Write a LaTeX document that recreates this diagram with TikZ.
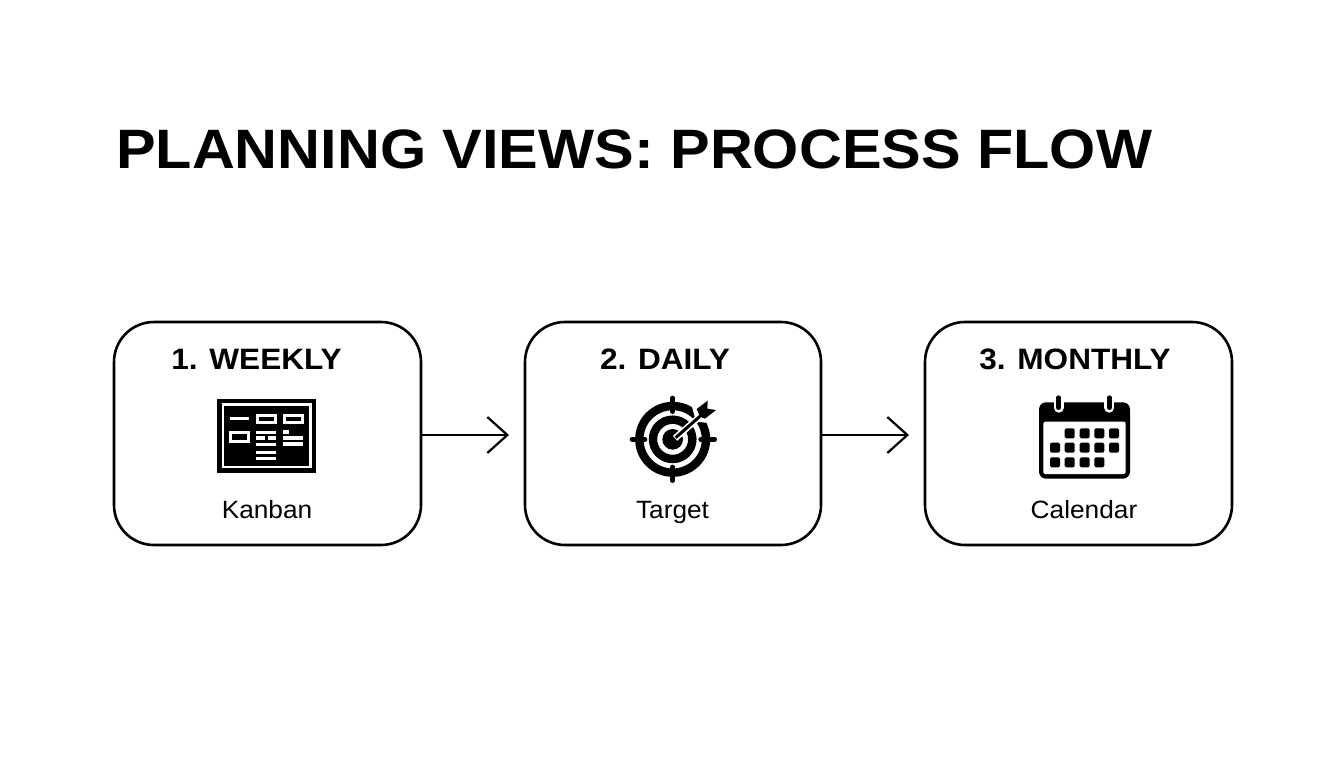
\documentclass[tikz,border=0pt]{standalone}
\usepackage{fontspec}
\setmainfont{Liberation Sans}
\usetikzlibrary{arrows.meta}
\tikzset{
  card/.style={draw=black,line width=2.6pt,rounded corners=40pt,fill=white,inner sep=0pt},
  titletext/.style={anchor=base west,inner sep=0pt,font=\fontsize{55.5}{60}\selectfont\bfseries\addfontfeature{FakeStretch=1.07}},
  headtext/.style={anchor=base,inner sep=0pt,font=\fontsize{29.5}{32}\selectfont\bfseries\addfontfeature{FakeStretch=1.07}},
  subtext/.style={anchor=base,inner sep=0pt,font=\fontsize{25}{28}\selectfont\addfontfeature{FakeStretch=1.05}},
  flow/.style={draw=black,line width=2pt,-{Straight Barb[length=20pt,width=36pt,line width=2.2pt]}},
  zoomed/.style={x=0.33333pt,y=-0.33333pt},
}
\begin{document}
\begin{tikzpicture}[x=1pt,y=-1pt]
\useasboundingbox (0,0) rectangle (1344,768);
\fill[white] (0,0) rectangle (1344,768);
\node[titletext] (title) at (116,168) {PLANNING VIEWS: PROCESS FLOW};
\node[card,minimum width=307pt,minimum height=223pt] (b1) at (267.5,433.5) {};
\node[card,minimum width=296pt,minimum height=223pt] (b2) at (673,433.5) {};
\node[card,minimum width=307pt,minimum height=223pt] (b3) at (1078.5,433.5) {};
\node[headtext] (h1) at (256.5,369) {1. WEEKLY};
\node[headtext] (h2) at (665,369) {2. DAILY};
\node[headtext] (h3) at (1075,369) {3. MONTHLY};
\node[subtext] (s1) at (267,518) {Kanban};
\node[subtext] (s2) at (672.5,518) {Target};
\node[subtext] (s3) at (1084,518) {Calendar};
\coordinate (e1) at (509,435);
\coordinate (e2) at (909,435);
\draw[flow] (b1.east |- e1) -- (e1);
\draw[flow] (b2.east |- e2) -- (e2);
% Kanban icon
\begin{scope}[shift={(200,385)},zoomed]
  \fill[black] (52,42) rectangle (349,264);
  \draw[white,line width=2.8pt] (69,59) rectangle (331,246);
  \fill[white] (90,95) rectangle (147,106);
  \draw[white,line width=3pt] (172,91) rectangle (225,113);
  \draw[white,line width=3pt] (253,91) rectangle (306,113);
  \draw[white,line width=3pt] (92,143) rectangle (146,168);
  \fill[white] (168,139) rectangle (229,148);
  \fill[white] (168,154) rectangle (195,165);
  \fill[white] (205,154) rectangle (229,165);
  \fill[white] (168,173) rectangle (229,183);
  \fill[white] (168,198) rectangle (229,208);
  \fill[white] (168,216) rectangle (229,226);
  \fill[white] (250,136) rectangle (268,147);
  \fill[white] (250,154) rectangle (310,165);
  \fill[white] (250,172) rectangle (310,183);
\end{scope}
% Target icon
\begin{scope}[shift={(610,385)},zoomed]
  \draw[black,line width=8.4pt] (188,163) circle[radius=100];
  \draw[black,line width=8.4pt] (188,163) circle[radius=59];
  \fill[black] (188,163) circle[radius=31];
  \draw[black,line width=4.6pt,line cap=round] (188,39) -- (188,80);
  \draw[black,line width=4.6pt,line cap=round] (188,246) -- (188,287);
  \draw[black,line width=4.6pt,line cap=round] (66,163) -- (105,163);
  \draw[black,line width=4.6pt,line cap=round] (272,163) -- (314,163);
  \fill[white] (245,62) -- (292,38) -- (330,70) -- (296,114) -- (258,110) -- cycle;
  \draw[white,line width=6.5pt] (195,160) -- (275,90);
  \draw[black,line width=3pt] (197,158) -- (280,85);
  \fill[black] (260,72) -- (293,47) -- (292,71) -- (318,75) -- (285,101) -- (270,95) -- cycle;
\end{scope}
% Calendar icon
\begin{scope}[shift={(1020,385)},zoomed]
  \fill[black,rounded corners=7pt] (57,52) rectangle (330,281);
  \fill[white,rounded corners=1.5pt] (70,110) rectangle (317,267);
  \foreach \rx in {116,268}{
    \draw[white,line width=10pt,line cap=round] (\rx,44) -- (\rx,68);
    \draw[black,line width=4.6pt,line cap=round] (\rx,38) -- (\rx,68);
  }
  \foreach \cx/\cy in {149/145,194/145,238/145,282/145,105/188,149/188,194/188,238/188,282/188,105/232,149/232,194/232,238/232}{
    \fill[black,rounded corners=1.5pt] (\cx-15,\cy-15) rectangle (\cx+15,\cy+15);
  }
\end{scope}
\end{tikzpicture}
\end{document}
